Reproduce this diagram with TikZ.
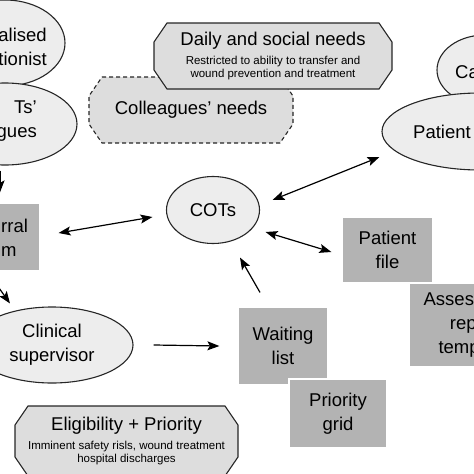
\documentclass[tikz,border=0pt]{standalone}
\usepackage{fontspec}
\setmainfont{Liberation Sans}
\usetikzlibrary{arrows.meta, shapes.geometric}

\definecolor{ovalgray}{HTML}{EDEDED}
\definecolor{needgray}{HTML}{DDDDDD}
\definecolor{docgray}{HTML}{B3B3B3}
\definecolor{linegray}{HTML}{262626}

\tikzset{
    >={Stealth[length=12pt, width=9pt, inset=2.5pt]},
    bigtxt/.style={font=\fontsize{18.5}{24}\selectfont},
    smalltxt/.style={font=\fontsize{11.5}{13.5}\selectfont},
    cuttxt/.style={bigtxt, inner sep=0pt},
    actor/.style={ellipse, draw=linegray, fill=ovalgray, line width=1.1pt, bigtxt, align=center, inner sep=0pt},
    doc/.style={rectangle, draw=white, line width=1.2pt, fill=docgray, bigtxt, align=center, inner sep=0pt},
    needline/.style={draw=linegray, fill=needgray, line width=1.1pt},
    need/.style={rectangle, inner sep=0pt, align=center, smalltxt, path picture={
        \filldraw[needline]
            ([shift={(14pt,-1pt)}]path picture bounding box.north west) --
            ([shift={(-14pt,-1pt)}]path picture bounding box.north east) --
            ([shift={(-1pt,-20pt)}]path picture bounding box.north east) --
            ([shift={(-1pt,20pt)}]path picture bounding box.south east) --
            ([shift={(-14pt,1pt)}]path picture bounding box.south east) --
            ([shift={(14pt,1pt)}]path picture bounding box.south west) --
            ([shift={(1pt,20pt)}]path picture bounding box.south west) --
            ([shift={(1pt,-20pt)}]path picture bounding box.north west) -- cycle;}},
    link/.style={line width=1.2pt}
}

\begin{document}
\begin{tikzpicture}[x=1pt, y=-1pt]
    \useasboundingbox (0,0) rectangle (474,474);
    \clip (0,0) rectangle (474,474);

    % people
    \node[actor, minimum width=120, minimum height=86] (spec) at (5,43) {};
    \node[cuttxt, align=right, anchor=east] (spectxt) at (47,47) {alised\\tionist};
    \node[actor, minimum width=144, minimum height=82] (coll) at (5,124) {};
    \node[cuttxt, align=right, anchor=east] (colltxt) at (37,121) {Ts'\\gues};

    \node[actor, minimum width=96, minimum height=70] (carer) at (485,70) {};
    \node[cuttxt, anchor=west] (carertxt) at (455,72) {Ca};
    \node[actor, minimum width=196, minimum height=77] (patient) at (480,131.5) {};
    \node[cuttxt, anchor=west] (patienttxt) at (413,132) {Patient};

    \node[actor, minimum width=93, minimum height=67] (cots) at (213,210) {COTs};
    \node[actor, minimum width=162, minimum height=76] (clin) at (52,345) {Clinical\\supervisor};

    % needs
    \node[need, needline/.append style={dash pattern=on 4pt off 3pt}, minimum width=206, minimum height=68] (colleagues) at (191,110)
        {\fontsize{18.5}{22}\selectfont Colleagues' needs};
    \node[need, minimum width=240, minimum height=68] (daily) at (273,56)
        {{\fontsize{18.5}{22}\selectfont Daily and social needs}\\[5pt]Restricted to ability to transfer and\\wound prevention and treatment};
    \node[need, minimum width=225, minimum height=72] (elig) at (126.5,441)
        {{\fontsize{18.5}{22}\selectfont Eligibility + Priority}\\[5pt]Imminent safety risls, wound treatment\\hospital discharges};

    % documents
    \node[doc, minimum width=80, minimum height=68] (referral) at (0,237) {};
    \node[cuttxt, align=left, anchor=west] (referraltxt) at (1,238) {rral\\m};
    \node[doc, minimum width=91, minimum height=66] (file) at (387.5,250) {Patient\\file};
    \node[doc, minimum width=130, minimum height=84] (assess) at (474,325) {Assessment\\report\\template};
    \node[doc, minimum width=90, minimum height=78] (waiting) at (283,346) {Waiting\\list};
    \node[doc, minimum width=98, minimum height=69] (grid) at (338,413.5) {Priority\\grid};

    % connectors
    \draw[link, ->] ([shift={(-5,5)}]coll.south) -- ([shift={(0,-10)}]referral.north);
    \draw[link, ->] ([shift={(-2,15)}]referral.south) -- ([shift={(-42,-3)}]clin.north);
    \draw[link, <->] ([shift={(18,-4)}]referral.east) -- ([shift={(-13.5,7)}]cots.west);
    \draw[link, <->] ([shift={(12.5,-10)}]cots.east) -- ([shift={(-2,25.5)}]patient.west);
    \draw[link, <->] ([shift={(5.5,22)}]cots.east) -- ([shift={(-10,2)}]file.west);
    \draw[link, ->] ([shift={(-23,-14)}]waiting.north) -- ([shift={(27,13.5)}]cots.south);
    \draw[link, ->] ([shift={(20,0)}]clin.east) -- ([shift={(-18,0)}]waiting.west);

\end{tikzpicture}
\end{document}
